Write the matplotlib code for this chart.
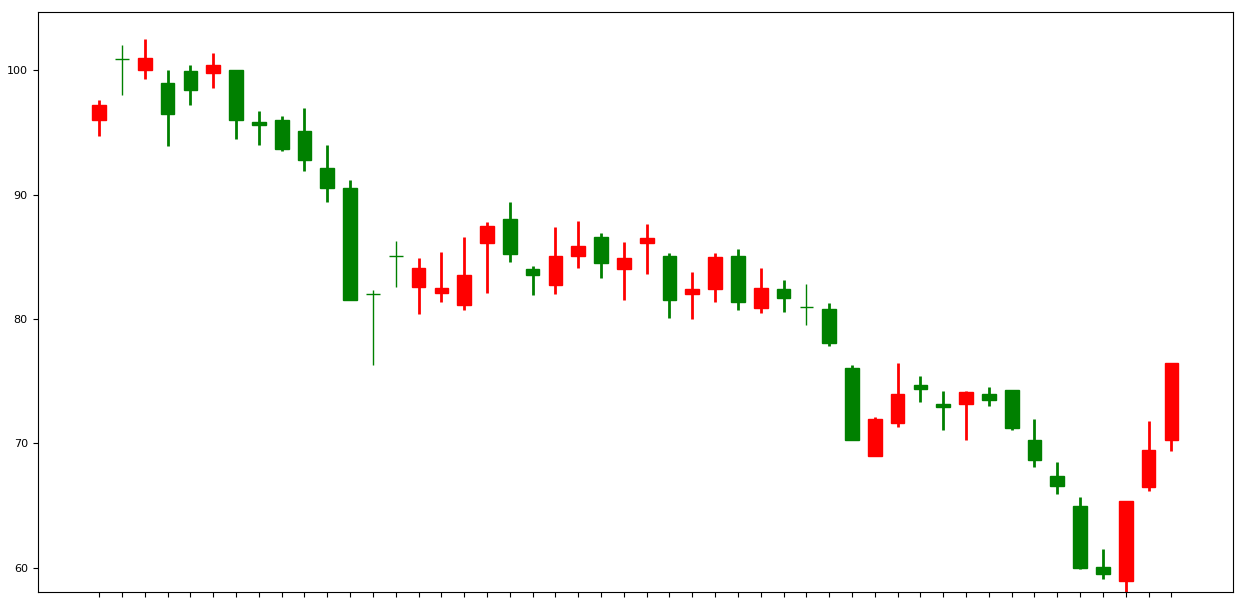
import matplotlib
matplotlib.use("Agg")
from matplotlib import pyplot as plt
from matplotlib.patches import Rectangle

opens = [96.0, 100.9, 100.0, 99.0, 99.9, 99.8, 100.0, 95.8, 96.0, 95.1, 92.1, 90.5,
         82.0, 85.1, 82.6, 82.1, 81.1, 86.1, 88.0, 84.0, 82.7, 85.1, 86.6, 84.0,
         86.1, 85.1, 82.0, 82.4, 85.1, 80.9, 82.4, 81.0, 80.8, 76.1, 69.0, 71.6,
         74.7, 73.2, 73.2, 74.0, 74.3, 70.3, 67.4, 65.0, 60.1, 58.9, 66.5, 70.3]
closes = [97.2, 100.9, 101.0, 96.5, 98.4, 100.4, 96.0, 95.6, 93.7, 92.8, 90.5, 81.5,
          82.0, 85.1, 84.1, 82.5, 83.5, 87.5, 85.2, 83.5, 85.1, 85.9, 84.5, 84.9,
          86.5, 81.5, 82.4, 85.0, 81.4, 82.5, 81.7, 81.0, 78.1, 70.3, 72.0, 74.0,
          74.4, 72.9, 74.1, 73.5, 71.2, 68.7, 66.6, 60.0, 59.5, 65.4, 69.5, 76.5]
highs = [97.6, 102.0, 102.5, 100.0, 100.4, 101.4, 100.0, 96.7, 96.3, 97.0, 94.0, 91.2,
         82.3, 86.3, 84.9, 85.4, 86.6, 87.8, 89.4, 84.3, 87.4, 87.9, 86.9, 86.2,
         87.6, 85.3, 83.8, 85.3, 85.6, 84.1, 83.1, 82.8, 81.3, 76.3, 72.1, 76.5,
         75.4, 74.2, 74.2, 74.5, 74.3, 72.0, 68.5, 65.7, 61.5, 65.4, 71.8, 76.5]
lows = [94.7, 98.0, 99.3, 93.9, 97.2, 98.6, 94.5, 94.0, 93.5, 91.9, 89.4, 81.5,
        76.3, 82.6, 80.4, 81.4, 80.7, 82.1, 84.6, 81.9, 82.0, 84.1, 83.3, 81.5,
        83.6, 80.1, 80.0, 81.4, 80.7, 80.5, 80.6, 79.5, 77.8, 70.3, 69.0, 71.3,
        73.3, 71.1, 70.3, 73.0, 71.1, 68.1, 65.9, 59.9, 59.1, 58.0, 66.2, 69.4]


def main() -> None:
    fig = plt.figure(figsize=(12.53, 6.12), dpi=100)
    ax = fig.add_axes([0.03, 0.033, 0.954, 0.947])
    width = 0.6
    for i, (o, c, h, l) in enumerate(zip(opens, closes, highs, lows)):
        color = "red" if c > o else "green"
        if abs(c - o) < 1e-9:
            ax.vlines(i, l, h, color=color, lw=1)
            ax.hlines(o, i - width / 2, i + width / 2, color=color, lw=1)
        else:
            ax.vlines(i, l, h, color=color, lw=2)
            ax.add_patch(Rectangle((i - width / 2, min(o, c)), width, abs(c - o),
                                   facecolor=color, edgecolor=color, lw=1))

    ax.set_xlim(-2.7, 49.7)
    ax.set_ylim(58.07, 104.66)
    ax.set_xticks(range(len(opens)))
    ax.set_xticklabels([])
    ax.set_yticks([60, 70, 80, 90, 100])
    ax.tick_params(labelsize=8)
    plt.savefig("out.png", dpi=100)


if __name__ == '__main__':
    main()
